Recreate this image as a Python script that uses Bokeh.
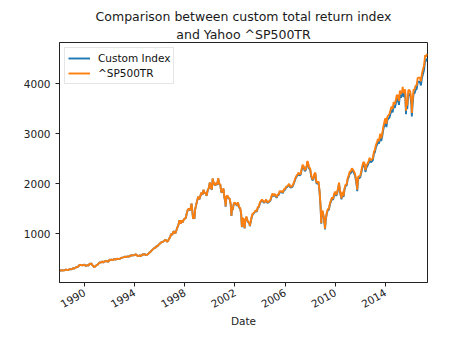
import pandas as pd
from math import pi
from bokeh.plotting import figure
from bokeh.models import Range1d, FixedTicker, DatetimeTickFormatter, Legend, LegendItem, Title
from bokeh.embed import file_html
from bokeh.resources import INLINE

# ---- data (month-end values, 1988-01 .. 2017-04) ----
sp500tr = [
    258, 268, 260, 262, 264, 277, 275, 266, 278, 286, 282, 287,
    308, 300, 307, 323, 336, 334, 365, 372, 371, 362, 369, 378,
    353, 358, 368, 359, 394, 391, 390, 355, 337, 336, 358, 367,
    384, 411, 421, 422, 440, 420, 440, 450, 443, 449, 431, 479,
    471, 477, 468, 482, 485, 478, 497, 487, 493, 495, 511, 517,
    522, 529, 540, 527, 541, 543, 540, 561, 556, 568, 562, 568,
    588, 571, 546, 553, 562, 548, 566, 589, 575, 588, 566, 575,
    590, 613, 631, 650, 675, 691, 714, 716, 746, 744, 775, 791,
    818, 825, 834, 846, 868, 872, 833, 850, 898, 923, 993, 973,
    1034, 1042, 999, 1059, 1123, 1174, 1267, 1196, 1262, 1220, 1276, 1298,
    1312, 1407, 1479, 1494, 1468, 1528, 1511, 1293, 1376, 1488, 1578, 1669,
    1739, 1684, 1752, 1820, 1777, 1875, 1817, 1808, 1758, 1870, 1908, 2021,
    1919, 1883, 2067, 2005, 1964, 2012, 1981, 2104, 1993, 1984, 1828, 1837,
    1902, 1729, 1619, 1745, 1757, 1714, 1697, 1591, 1462, 1490, 1604, 1619,
    1595, 1564, 1623, 1525, 1514, 1406, 1297, 1305, 1163, 1266, 1340, 1261,
    1228, 1210, 1221, 1322, 1392, 1410, 1435, 1463, 1447, 1529, 1542, 1623,
    1653, 1676, 1651, 1625, 1648, 1680, 1624, 1631, 1649, 1674, 1742, 1800,
    1756, 1793, 1761, 1728, 1783, 1785, 1852, 1835, 1850, 1819, 1888, 1888,
    1938, 1943, 1967, 1994, 1936, 1939, 1951, 1997, 2048, 2115, 2155, 2186,
    2219, 2176, 2200, 2297, 2377, 2337, 2265, 2298, 2384, 2422, 2321, 2306,
    2168, 2097, 2088, 2190, 2218, 2031, 2014, 2043, 1861, 1548, 1437, 1453,
    1330, 1188, 1292, 1415, 1490, 1493, 1606, 1663, 1725, 1693, 1795, 1837,
    1771, 1826, 1936, 1967, 1810, 1715, 1835, 1752, 1908, 1981, 1981, 2114,
    2164, 2238, 2239, 2305, 2279, 2241, 2196, 2076, 1930, 2141, 2136, 2158,
    2255, 2352, 2430, 2415, 2270, 2363, 2396, 2449, 2513, 2467, 2481, 2504,
    2634, 2670, 2770, 2823, 2888, 2849, 2994, 2903, 2994, 3132, 3223, 3305,
    3191, 3337, 3365, 3390, 3469, 3541, 3493, 3633, 3582, 3670, 3769, 3760,
    3647, 3857, 3796, 3832, 3881, 3806, 3886, 3651, 3561, 3861, 3872, 3821,
    3631, 3626, 3871, 3886, 3955, 3965, 4111, 4117, 4118, 4043, 4193, 4278,
    4359, 4532, 4537, 4583,
]
custom_index = [
    258, 268, 260, 262, 264, 277, 275, 266, 278, 286, 282, 287,
    308, 300, 307, 323, 336, 334, 365, 372, 371, 362, 369, 378,
    353, 358, 368, 359, 394, 391, 390, 355, 337, 336, 358, 367,
    384, 411, 421, 422, 440, 420, 440, 450, 443, 449, 431, 479,
    471, 477, 468, 482, 485, 478, 497, 487, 493, 495, 511, 517,
    522, 529, 540, 527, 541, 543, 540, 561, 556, 568, 562, 568,
    588, 571, 546, 553, 562, 548, 566, 589, 575, 588, 566, 575,
    590, 613, 631, 650, 675, 691, 714, 716, 746, 744, 775, 791,
    818, 825, 834, 846, 868, 872, 833, 850, 898, 923, 993, 973,
    1034, 1042, 999, 1059, 1123, 1174, 1267, 1196, 1262, 1220, 1276, 1298,
    1310, 1404, 1476, 1491, 1465, 1525, 1508, 1290, 1373, 1485, 1575, 1665,
    1735, 1680, 1748, 1815, 1772, 1870, 1812, 1803, 1753, 1865, 1902, 2015,
    1912, 1876, 2060, 1998, 1957, 2004, 1973, 2096, 1985, 1976, 1820, 1829,
    1893, 1721, 1611, 1737, 1748, 1705, 1688, 1583, 1454, 1482, 1596, 1610,
    1586, 1555, 1614, 1516, 1505, 1397, 1289, 1297, 1156, 1258, 1332, 1253,
    1220, 1202, 1213, 1313, 1383, 1400, 1425, 1453, 1437, 1519, 1531, 1612,
    1641, 1664, 1639, 1613, 1636, 1668, 1612, 1619, 1637, 1661, 1729, 1786,
    1742, 1779, 1747, 1714, 1769, 1771, 1837, 1820, 1835, 1804, 1873, 1873,
    1922, 1927, 1951, 1977, 1920, 1923, 1934, 1980, 2030, 2097, 2136, 2167,
    2199, 2156, 2180, 2276, 2355, 2315, 2244, 2277, 2362, 2399, 2299, 2284,
    2146, 2076, 2067, 2168, 2196, 2011, 1994, 2023, 1842, 1533, 1423, 1438,
    1314, 1174, 1277, 1398, 1472, 1475, 1587, 1643, 1704, 1673, 1773, 1815,
    1750, 1804, 1913, 1943, 1788, 1694, 1813, 1731, 1885, 1957, 1957, 2089,
    2132, 2204, 2205, 2270, 2245, 2207, 2163, 2045, 1901, 2109, 2104, 2126,
    2217, 2312, 2389, 2374, 2231, 2323, 2355, 2407, 2470, 2425, 2439, 2461,
    2587, 2622, 2720, 2772, 2836, 2798, 2940, 2851, 2940, 3076, 3165, 3246,
    3127, 3270, 3298, 3322, 3400, 3470, 3423, 3560, 3510, 3597, 3694, 3685,
    3574, 3780, 3720, 3755, 3803, 3730, 3808, 3578, 3490, 3784, 3795, 3745,
    3558, 3553, 3794, 3808, 3876, 3886, 4029, 4035, 4036, 3962, 4109, 4192,
    4272, 4441, 4446, 4491,
]
# intra-month extremes (start, peaks, troughs, end)
extra_dates = [
    "1988-01-04", "1990-07-16", "1990-10-11", "1998-07-17", "1998-10-08",
    "2000-03-24", "2000-09-01", "2001-04-04", "2001-09-21", "2002-07-23",
    "2002-10-09", "2003-03-11", "2007-10-09", "2008-11-20", "2009-03-09",
    "2010-04-23", "2010-07-02", "2011-10-03", "2015-05-21", "2015-08-25",
    "2016-02-11", "2017-03-01", "2017-05-12",
]
extra_sp500tr = [
    256, 402, 325, 1600, 1296,
    2104, 2106, 1545, 1357, 1132,
    1107, 1152, 2449, 1207, 1097,
    2020, 1702, 1874, 3932, 3454,
    3411, 4564, 4590,
]
extra_custom = [
    256, 402, 325, 1597, 1293,
    2096, 2098, 1537, 1349, 1125,
    1100, 1145, 2426, 1195, 1083,
    1995, 1681, 1846, 3853, 3385,
    3343, 4473, 4498,
]
tick_years = [1990, 1994, 1998, 2002, 2006, 2010, 2014]
y_ticks = [1000, 2000, 3000, 4000]

month_ends = list(pd.date_range("1988-01-31", "2017-04-30", freq="ME"))
df = pd.DataFrame({
    "date": month_ends + list(pd.to_datetime(extra_dates)),
    "tr": sp500tr + extra_sp500tr,
    "custom": custom_index + extra_custom,
}).sort_values("date").reset_index(drop=True)

FONT = "DejaVu Sans"
p = figure(width=474, height=353, x_axis_type="datetime",
           x_range=Range1d(df["date"].iloc[0], df["date"].iloc[-1]),
           y_range=Range1d(20, 4820),
           output_backend="svg", toolbar_location=None)
p.min_border_left = 59
p.min_border_right = 47
p.min_border_top = 42
p.min_border_bottom = 71

r1 = p.line(df["date"], df["custom"], line_color="#1f77b4", line_width=1.9)
r2 = p.line(df["date"], df["tr"], line_color="#ff7f0e", line_width=1.9)

p.add_layout(Title(text="and Yahoo ^SP500TR", align="center", text_font=FONT,
                   text_font_size="12.5px", text_font_style="normal",
                   text_color="#1a1a1a", standoff=2), "above")
p.add_layout(Title(text="Comparison between custom total return index", align="center",
                   text_font=FONT, text_font_size="12.5px", text_font_style="normal",
                   text_color="#1a1a1a", standoff=0), "above")

p.xaxis.ticker = FixedTicker(ticks=[pd.Timestamp(f"{y}-01-01").value / 1e6 for y in tick_years])
fmt = "%Y"
p.xaxis.formatter = DatetimeTickFormatter(years=fmt, months=fmt, days=fmt, hours=fmt,
                                          minutes=fmt, seconds=fmt, milliseconds=fmt,
                                          microseconds=fmt, hourmin=fmt, minsec=fmt)
p.xaxis.major_label_orientation = pi / 6
p.xaxis.axis_label = "Date"
p.yaxis.ticker = FixedTicker(ticks=y_ticks)

for ax in (p.xaxis, p.yaxis):
    ax.major_tick_out = 4
    ax.major_tick_in = 0
    ax.minor_tick_out = 0
    ax.minor_tick_in = 0
    ax.axis_line_color = "#222222"
    ax.major_tick_line_color = "#222222"
    ax.major_label_text_font = FONT
    ax.major_label_text_font_size = "10.5px"
    ax.major_label_text_color = "#222222"
    ax.axis_label_text_font = FONT
    ax.axis_label_text_font_size = "10.5px"
    ax.axis_label_text_font_style = "normal"
    ax.axis_label_text_color = "#222222"
p.xaxis.axis_label_standoff = 0

p.xgrid.visible = False
p.ygrid.visible = False
p.outline_line_color = "#222222"
p.outline_line_alpha = 1.0

legend = Legend(items=[LegendItem(label="Custom Index", renderers=[r1]),
                       LegendItem(label="^SP500TR", renderers=[r2])],
                location="top_left")
legend.label_text_font = FONT
legend.label_text_font_size = "10.5px"
legend.label_text_color = "#111111"
legend.border_line_color = "#cccccc"
legend.border_line_width = 1
legend.padding = 3
legend.spacing = 1
legend.margin = 5
legend.glyph_width = 22
legend.glyph_height = 14
legend.label_height = 14
legend.label_standoff = 8
p.add_layout(legend)

open("out.html", "w").write(file_html(p, INLINE))
